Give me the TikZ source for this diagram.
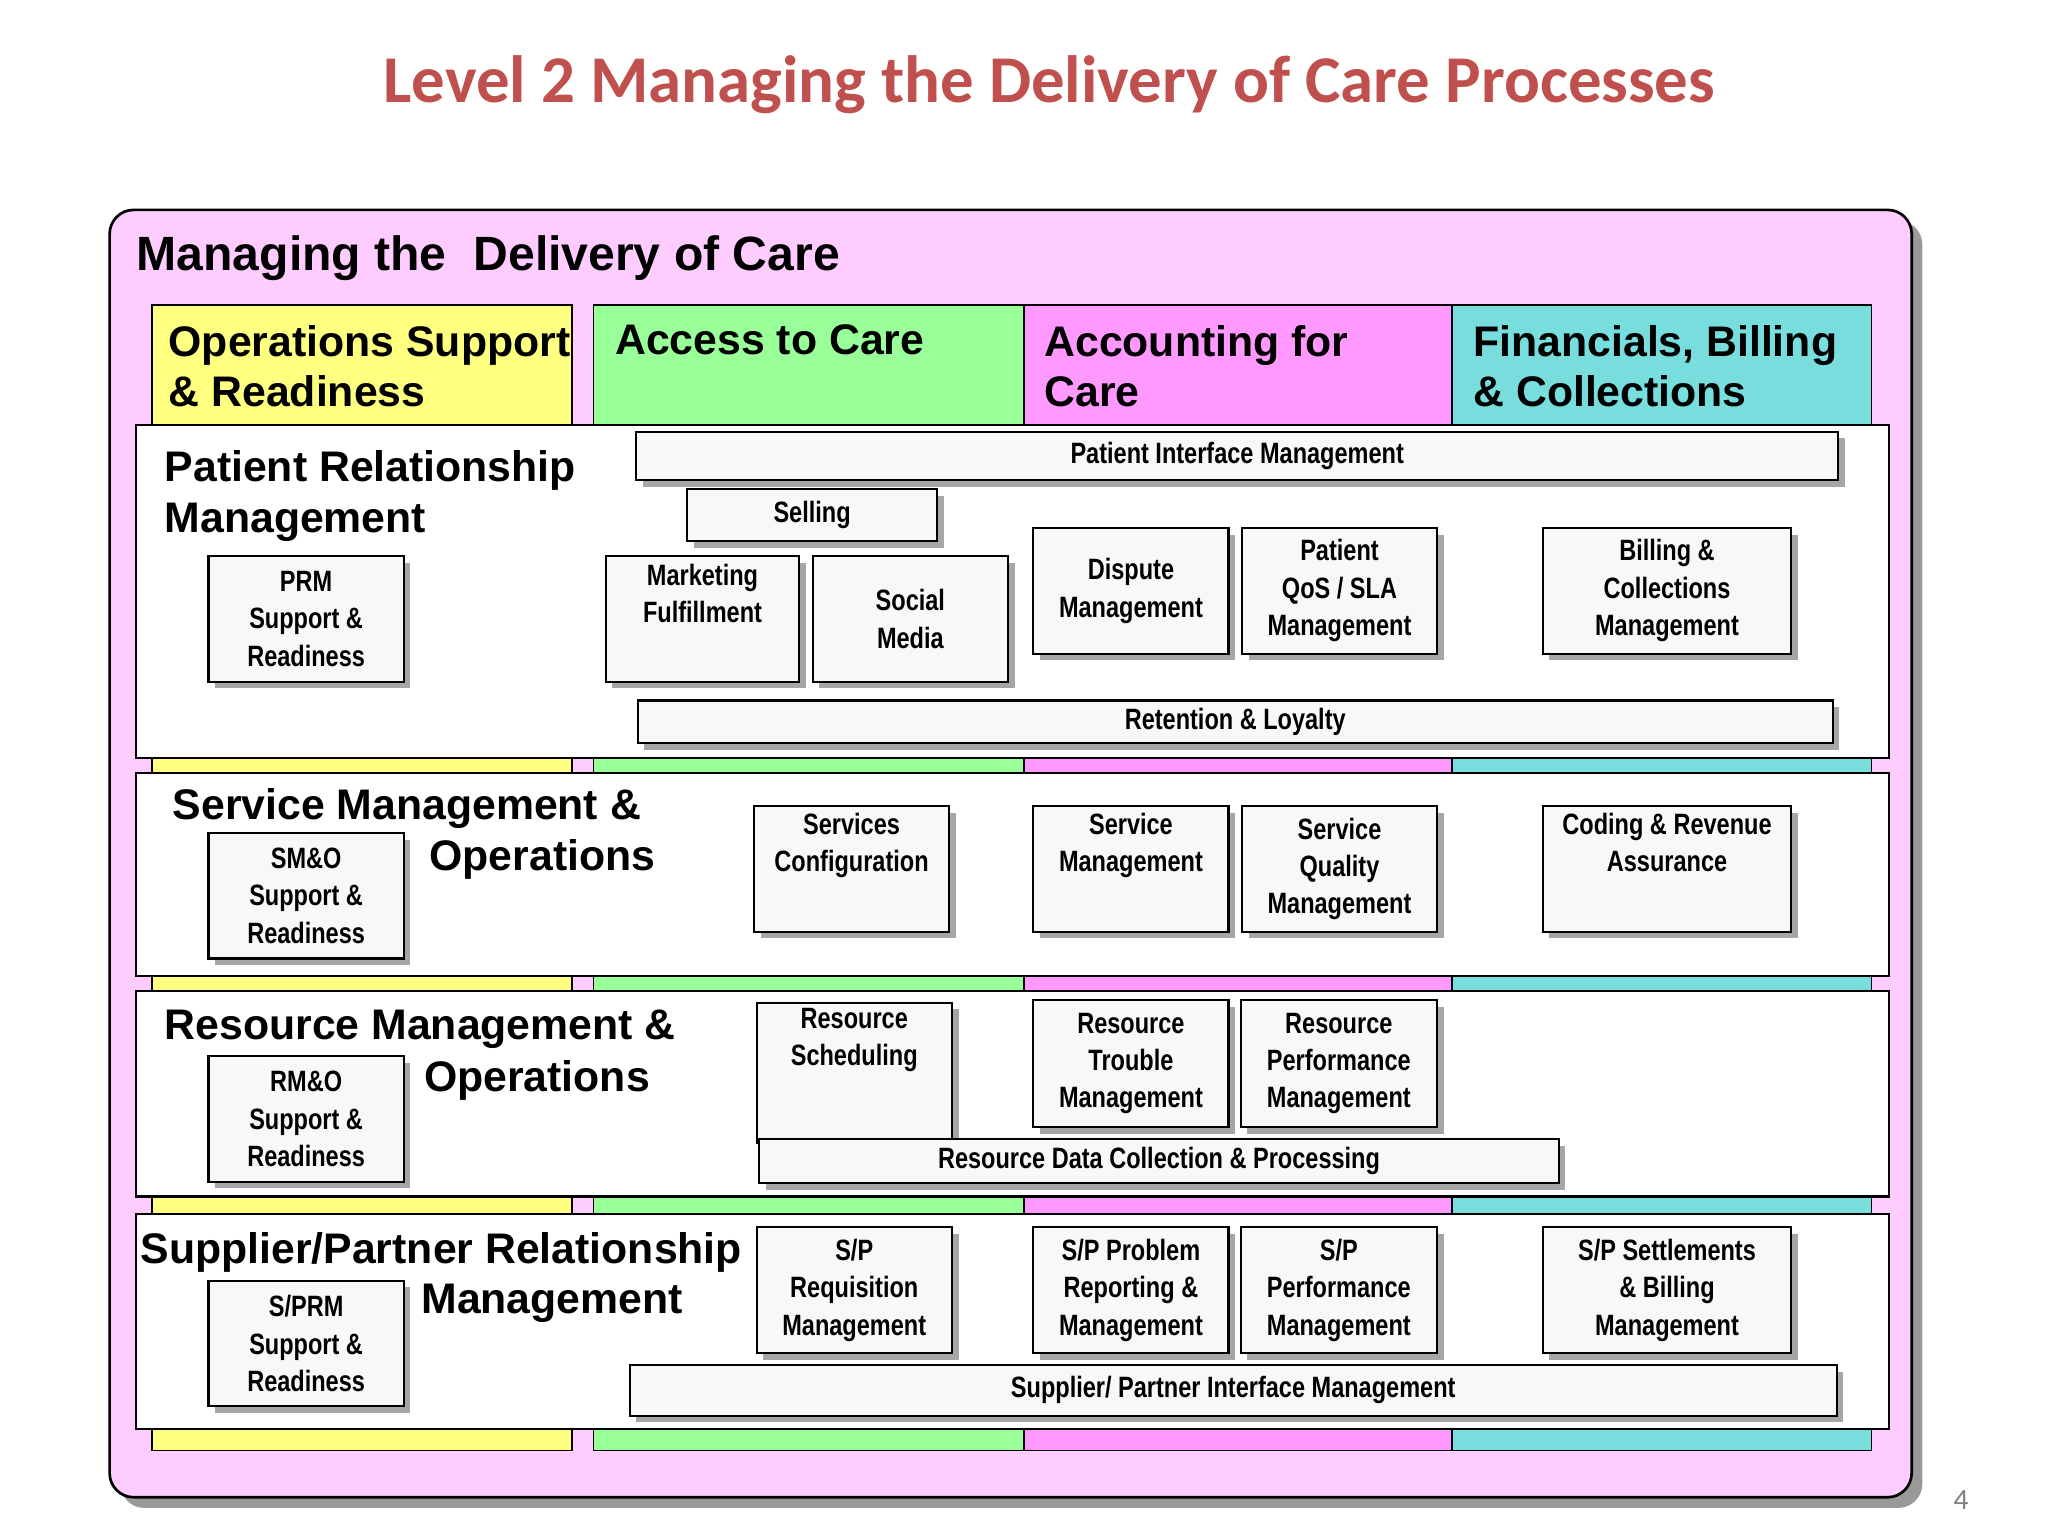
\documentclass[tikz,border=0pt]{standalone}
\usepackage{fontspec}
\setmainfont{Liberation Sans}
\newfontfamily\narrowf{Liberation Sans}[FakeStretch=0.8]
\newfontfamily\calib{Carlito}
\usetikzlibrary{shadows}
\definecolor{ttl}{RGB}{192,80,77}
\definecolor{outer}{RGB}{255,204,255}
\definecolor{cyel}{RGB}{255,255,128}
\definecolor{cgrn}{RGB}{153,255,153}
\definecolor{cmag}{RGB}{255,153,255}
\definecolor{cteal}{RGB}{119,221,221}
\definecolor{bfill}{RGB}{248,248,250}
\tikzset{
 proc/.style={draw, line width=1.6pt, fill=bfill, inner sep=0pt, align=center,
   font=\narrowf\bfseries\fontsize{22}{28}\selectfont,
   general shadow={fill=gray!70, shadow xshift=5pt, shadow yshift=-5pt}},
 rowbox/.style={draw, line width=1.6pt, fill=white},
 rowtitle/.style={anchor=north west, align=left, inner sep=0pt, font=\bfseries\fontsize{32}{38}\selectfont},
 hdr/.style={anchor=north west, align=left, inner sep=0pt, font=\bfseries\fontsize{32}{38}\selectfont}
}
\newcommand{\pbox}[6]{\node[proc, minimum width={#4-#2}, minimum height={#5-#3}] (#1) at ({(#2+#4)/2},{-(#3+#5)/2}) {#6};}
\begin{document}
\begin{tikzpicture}[x=1pt,y=1pt]
\useasboundingbox (0,0) rectangle (1532,-1149);
\node[font=\calib\bfseries\fontsize{50}{56}\selectfont, text=ttl] (title) at (785,-63) {Level 2 Managing the Delivery of Care Processes};
\fill[gray!80, rounded corners=18pt] (90,-165) rectangle (1438,-1128);
\draw[line width=2pt, fill=outer, rounded corners=18pt] (82,-157) rectangle (1430,-1120);
\node[anchor=west, inner sep=0pt, font=\bfseries\fontsize{36}{40}\selectfont] (main) at (102,-193) {Managing the \ Delivery of Care};
% columns
\draw[line width=1.4pt, fill=cyel] (114,-228) rectangle (428,-1085);
\draw[line width=1.4pt, fill=cgrn] (444,-228) rectangle (766,-1085);
\draw[line width=1.4pt, fill=cmag] (766,-228) rectangle (1086,-1085);
\draw[line width=1.4pt, fill=cteal] (1086,-228) rectangle (1400,-1085);
\node[hdr] (h1) at (126,-243) {Operations Support\\\& Readiness};
\node[hdr] (h2) at (460,-243) {Access to Care};
\node[hdr] (h3) at (781,-243) {Accounting for\\Care};
\node[hdr] (h4) at (1102,-243) {Financials, Billing\\\& Collections};
% rows
\draw[rowbox] (102,-318) rectangle (1413,-567);
\draw[rowbox] (102,-578) rectangle (1413,-730);
\draw[rowbox] (102,-741) rectangle (1413,-895);
\draw[rowbox] (102,-908) rectangle (1413,-1069);
\node[rowtitle] (r1) at (123,-337) {Patient Relationship\\Management};
\node[rowtitle] (r2a) at (129,-590) {Service Management \&};
\node[rowtitle] (r2b) at (321,-628) {Operations};
\node[rowtitle] (r3a) at (123,-755) {Resource Management \&};
\node[rowtitle] (r3b) at (317,-793) {Operations};
\node[rowtitle] (r4a) at (105,-922) {Supplier/Partner Relationship};
\node[rowtitle] (r4b) at (315,-960) {Management};
% process boxes
\pbox{pim}{476}{323}{1375}{359}{Patient Interface Management}
\pbox{sell}{514}{366}{701}{405}{Selling}
\pbox{mkt}{453}{416}{598}{510}{Marketing\\Fulfillment\\[10pt]}
\pbox{soc}{608}{416}{754}{510}{Social\\Media}
\pbox{disp}{773}{395}{919}{489}{Dispute\\Management}
\pbox{qos}{929}{395}{1075}{489}{Patient\\QoS / SLA\\Management}
\pbox{bill}{1154}{395}{1340}{489}{Billing \&\\Collections\\Management}
\pbox{prm}{156}{416}{302}{510}{PRM\\Support \&\\Readiness}
\pbox{ret}{477}{524}{1371}{556}{Retention \& Loyalty}
\pbox{smo}{156}{623}{302}{717}{SM\&O\\Support \&\\Readiness}
\pbox{scfg}{564}{603}{710}{697}{Services\\Configuration\\[12pt]}
\pbox{smgt}{773}{603}{919}{697}{Service\\Management\\[12pt]}
\pbox{sqm}{929}{603}{1075}{697}{Service\\Quality\\Management}
\pbox{cra}{1154}{603}{1340}{697}{Coding \& Revenue\\Assurance\\[12pt]}
\pbox{rmo}{156}{790}{302}{884}{RM\&O\\Support \&\\Readiness}
\pbox{rsch}{566}{750}{712}{855}{Resource\\Scheduling\\[26pt]}
\pbox{rtm}{773}{748}{919}{843}{Resource\\Trouble\\Management}
\pbox{rpm}{928}{748}{1075}{843}{Resource\\Performance\\Management}
\pbox{rdc}{568}{852}{1166}{885}{Resource Data Collection \& Processing}
\pbox{sprm}{156}{958}{302}{1052}{S/PRM\\Support \&\\Readiness}
\pbox{spreq}{566}{918}{712}{1012}{S/P\\Requisition\\Management}
\pbox{spprob}{773}{918}{919}{1012}{S/P Problem\\Reporting \&\\Management}
\pbox{spperf}{928}{918}{1075}{1012}{S/P\\Performance\\Management}
\pbox{spset}{1154}{918}{1340}{1012}{S/P Settlements\\\& Billing\\Management}
\pbox{spim}{471}{1021}{1374}{1059}{Supplier/ Partner Interface Management}
\node[text=gray, font=\calib\fontsize{22}{24}\selectfont] (pg) at (1467,-1122) {4};
\end{tikzpicture}
\end{document}
